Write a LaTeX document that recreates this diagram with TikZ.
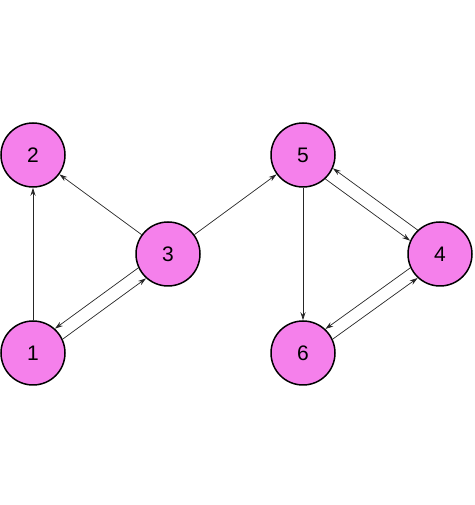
\documentclass[tikz,border=0pt]{standalone}
\usepackage{fontspec}
\setmainfont{Liberation Sans}
\usetikzlibrary{arrows.meta}
\definecolor{rosa}{RGB}{245,128,235}

\begin{document}
\begin{tikzpicture}[x=1pt,y=1pt,
  nodo/.style={circle,draw=black,line width=1.5pt,fill=rosa,minimum size=64pt,inner sep=0pt,font=\fontsize{21}{21}\selectfont},
  arco/.style={-{Stealth[length=8pt,width=5pt]},line width=0.7pt,black!85}]
\useasboundingbox (0,0) rectangle (474,505);
\node[nodo] (v2) at (33,350) {2}; \node[nodo] (v1) at (33,152) {1}; \node[nodo] (v3) at (168,251) {3};
\node[nodo] (v5) at (303,350) {5}; \node[nodo] (v4) at (440,251) {4}; \node[nodo] (v6) at (303,152) {6};
\draw[arco] (v1) -- (v2); \draw[arco] (v3) -- (v2);
\draw[arco] (v1.25) -- (v3.228); \draw[arco] (v3.205) -- (v1.48);
\draw[arco] (v3) -- (v5); \draw[arco] (v5) -- (v6);
\draw[arco] (v5.-47) -- (v4.156); \draw[arco] (v4.133) -- (v5.-24);
\draw[arco] (v6.25) -- (v4.227); \draw[arco] (v4.205) -- (v6.47);
\end{tikzpicture}
\end{document}
